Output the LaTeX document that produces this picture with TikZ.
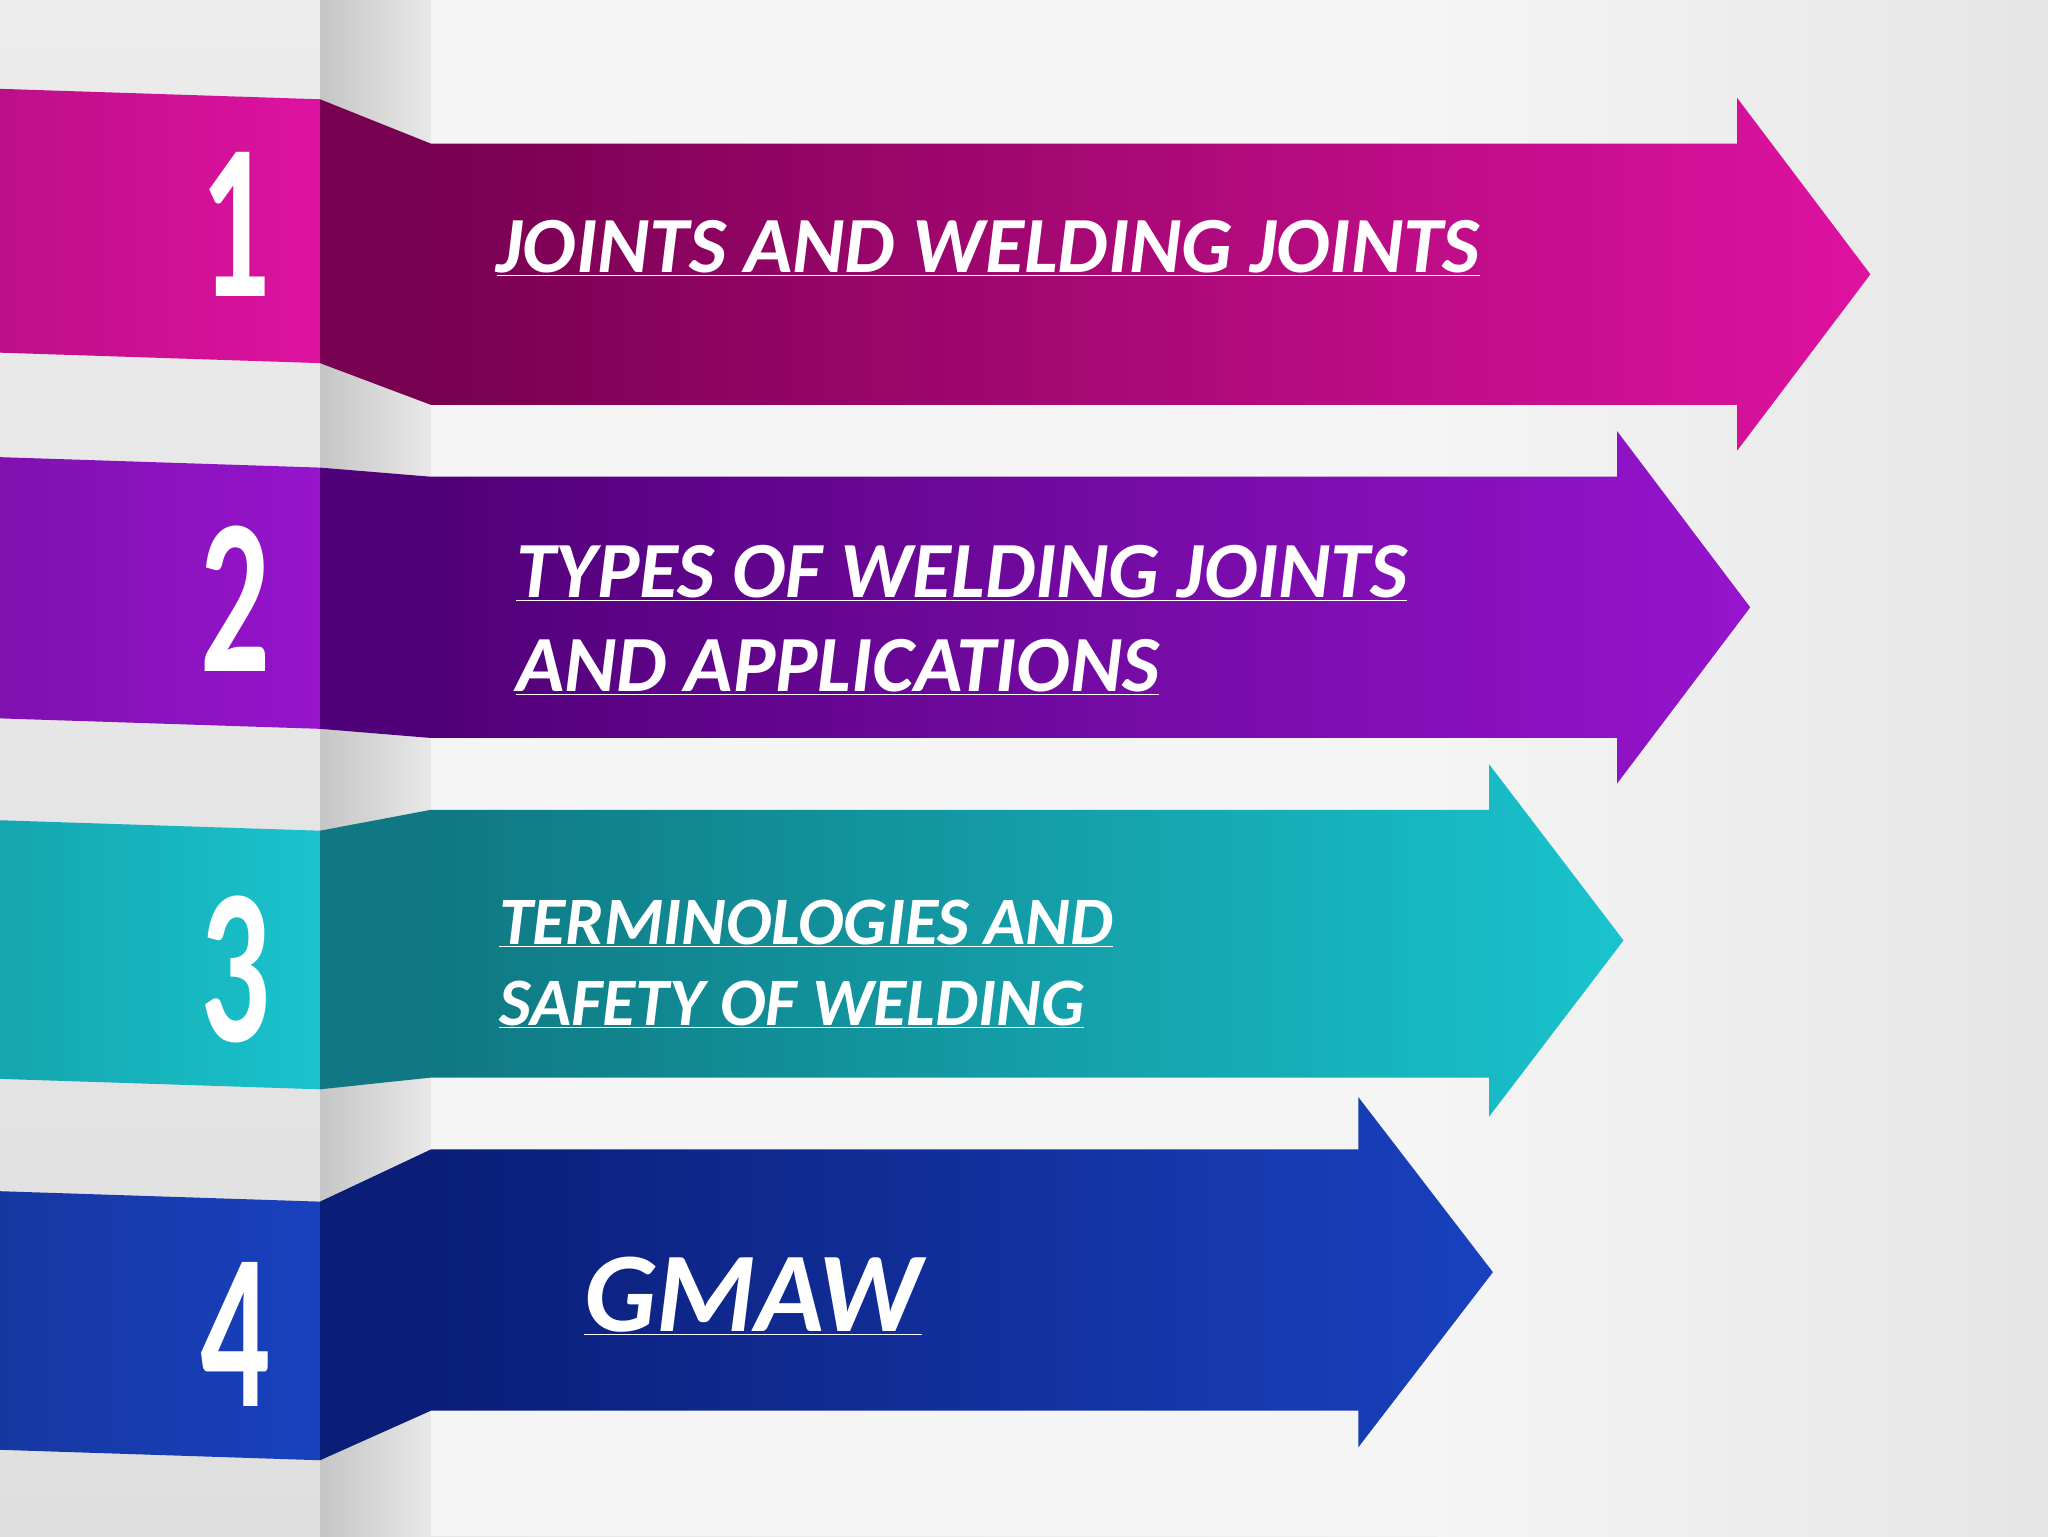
\documentclass[tikz,border=0pt]{standalone}
\usepackage{fontspec}
\setmainfont{Carlito}
\newcommand{\uline}[1]{\underline{#1}}
\begin{document}
\begin{tikzpicture}[x=1pt,y=-1pt,
  lbl/.style={anchor=west,text=white,font=\bfseries\itshape,inner sep=0pt,align=left},
  num/.style={text=white,inner sep=0pt,xscale=0.62,font=\bfseries\fontsize{170}{170}\selectfont}]
\useasboundingbox (0,0) rectangle (1568,1176);
\shade[left color=gray!22,right color=gray!8] (0,0) rectangle (1568,1176);
\shade[top color=gray!15,bottom color=gray!25] (0,0) rectangle (245,1176);
\shade[left color=gray!45,right color=gray!18] (245,0) rectangle (330,1176);
\fill[white!92!gray] (330,0) rectangle (1568,1176);
\shade[left color=white!92!gray,right color=gray!20] (1100,0) rectangle (1568,1176);
\newcommand{\myband}[9]{%
 \shade[left color=#9L!85!black,right color=#9L] (0,#1) -- (245,#1+8) -- (245,#2+8) -- (0,#2) -- cycle;
 \fill[#9D] (245,#1+8) -- (330,#3) -- (330,#4) -- (245,#2+8) -- cycle;
 \shade[left color=#9D,right color=#9L] (330,#3) -- (#5,#3) -- (#5,#6) -- (#8,{(#6+#7)/2}) -- (#5,#7) -- (#5,#4) -- (330,#4) -- cycle;
}
\colorlet{aL}{rgb,255:red,222;green,18;blue,160}\colorlet{aD}{rgb,255:red,120;green,0;blue,80}
\colorlet{bL}{rgb,255:red,150;green,20;blue,205}\colorlet{bD}{rgb,255:red,80;green,0;blue,120}
\colorlet{cL}{rgb,255:red,25;green,195;blue,205}\colorlet{cD}{rgb,255:red,15;green,120;blue,130}
\colorlet{dL}{rgb,255:red,25;green,65;blue,190}\colorlet{dD}{rgb,255:red,10;green,30;blue,120}
\myband{68}{270}{110}{310}{1330}{75}{345}{1432}{a}
\myband{350}{550}{365}{565}{1238}{330}{600}{1340}{b}
\myband{628}{826}{620}{825}{1140}{585}{855}{1243}{c}
\myband{912}{1110}{880}{1080}{1040}{840}{1108}{1143}{d}
\node[num] (n1) at (180,172) {1};
\node[num] (n2) at (180,458) {2};
\node[num] (n3) at (180,742) {3};
\node[num] (n4) at (180,1022) {4};
\node[lbl,font=\bfseries\itshape\fontsize{61}{66}\selectfont] (t1) at (380,190) {\uline{JOINTS AND WELDING JOINTS}};
\node[lbl,font=\bfseries\itshape\fontsize{61}{72}\selectfont] (t2) at (395,475) {\uline{TYPES OF WELDING JOINTS}\\\uline{AND APPLICATIONS}};
\node[lbl,font=\bfseries\itshape\fontsize{52}{62}\selectfont] (t3) at (382,738) {\uline{TERMINOLOGIES AND}\\\uline{SAFETY OF WELDING}};
\node[lbl,font=\bfseries\itshape\fontsize{87}{92}\selectfont] (t4) at (447,992) {\uline{GMAW}};
\end{tikzpicture}
\end{document}
